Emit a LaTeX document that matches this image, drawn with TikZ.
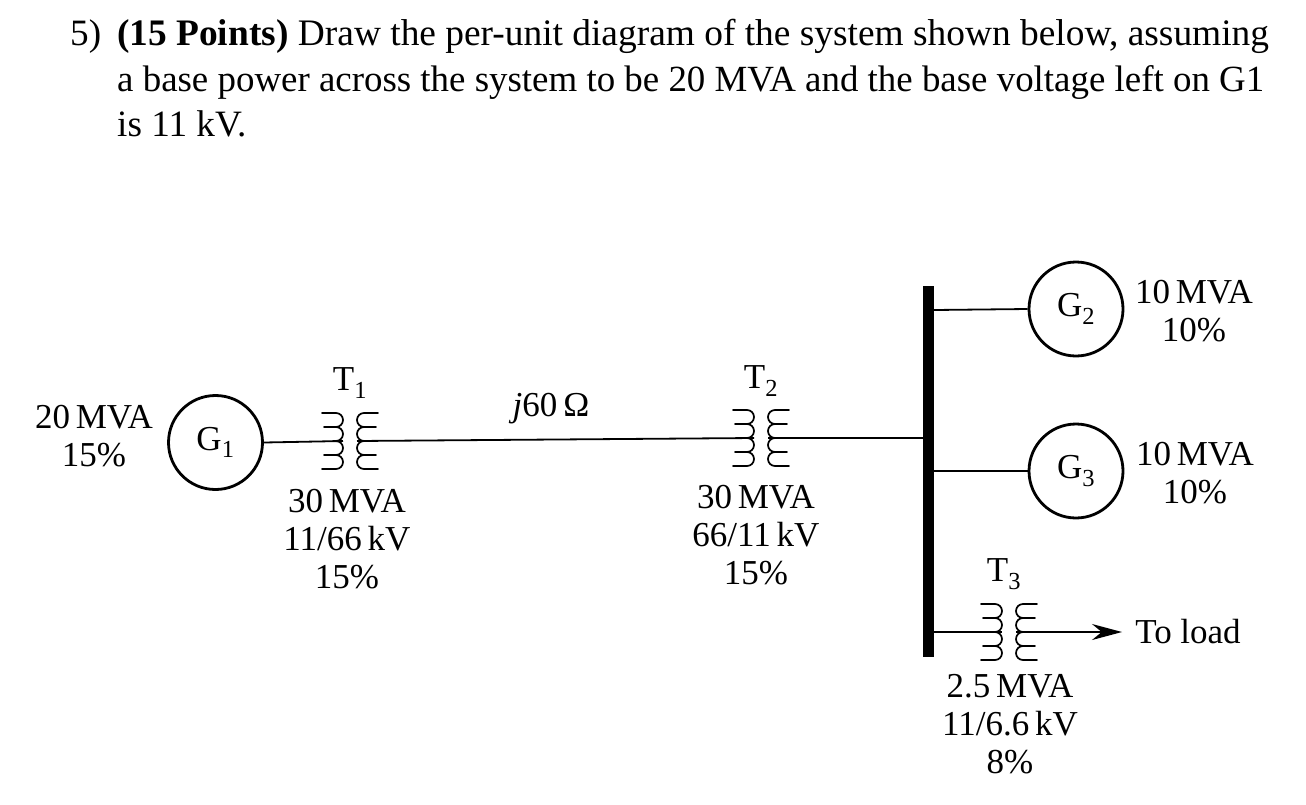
\documentclass[tikz,border=0pt]{standalone}
\usepackage{fontspec}
\setmainfont{Liberation Serif}
\usetikzlibrary{arrows.meta}
\newcommand{\hdr}{\fontsize{37.2}{39}\selectfont}
\newcommand{\hdrb}{\fontsize{36.9}{39}\selectfont}
\newcommand{\hdra}{\fontsize{37.4}{39}\selectfont}
\newcommand{\lbl}{\fontsize{35}{38}\selectfont}
\tikzset{
  x=1pt,y=-1pt,
  wire/.style={line width=1.8pt,black},
  gen/.style={circle,draw=black,line width=2.8pt,minimum size=94pt,inner sep=0pt,font=\lbl},
  bus/.style={fill=black,draw=none,minimum width=11pt,minimum height=371pt,inner sep=0pt},
  txt/.style={font=\lbl,align=center,inner sep=0pt},
  head/.style={anchor=base west,inner sep=0pt},
  xfmr/.pic={
    \draw[line width=1.7pt,line cap=round]
      (-28,-28) -- (-14,-28) arc[start angle=90,end angle=-90,radius=7pt] -- (-26,-14)
      (-26,-14) -- (-14,-14) arc[start angle=90,end angle=-90,radius=7pt] -- (-17,0)
      (-17,0) -- (-14,0) arc[start angle=90,end angle=-90,radius=7pt] -- (-26,14)
      (-26,14) -- (-14,14) arc[start angle=90,end angle=-90,radius=7pt] -- (-28,28);
    \draw[line width=1.7pt,line cap=round]
      (28,-28) -- (14,-28) arc[start angle=90,end angle=270,radius=7pt] -- (26,-14)
      (26,-14) -- (14,-14) arc[start angle=90,end angle=270,radius=7pt] -- (17,0)
      (17,0) -- (14,0) arc[start angle=90,end angle=270,radius=7pt] -- (26,14)
      (26,14) -- (14,14) arc[start angle=90,end angle=270,radius=7pt] -- (28,28);
    \coordinate (-l) at (-7,0);
    \coordinate (-r) at (7,0);
  }
}
\begin{document}
\begin{tikzpicture}
\useasboundingbox (0,0) rectangle (1306,804);
\node[head,font=\hdr] (h0) at (70,45) {5)};
\node[head,font=\hdra] (h1) at (117,45) {\textbf{(15 Points)} Draw the per-unit diagram of the system shown below, assuming};
\node[head,font=\hdrb] (h2) at (117,91) {a base power across the system to be 20 MVA and the base voltage left on G1};
\node[head,font=\hdr] (h3) at (117,136) {is 11 kV.};

\node[bus] (bus) at (928.5,471.5) {};
\node[gen] (g1) at (215.5,442.5) {G\textsubscript{1}};
\node[gen] (g2) at (1076,309) {G\textsubscript{2}};
\node[gen] (g3) at (1076,471) {G\textsubscript{3}};
\pic (t1) at (350,441) {xfmr};
\pic (t2) at (761,438) {xfmr};
\pic (t3) at (1009,632) {xfmr};
\coordinate (busa) at (923,438);
\coordinate (busb) at (934,310);
\coordinate (busc) at (934,471);
\coordinate (busd) at (934,632);
\coordinate (load) at (1122,632);

\draw[wire] (g1.east) -- (t1-l);
\draw[wire] (t1-r) -- (t2-l);
\draw[wire] (t2-r) -- (busa);
\draw[wire] (busb) -- (g2.west);
\draw[wire] (busc) -- (g3.west);
\draw[wire] (busd) -- (t3-l);
\draw[wire,-{Stealth[length=30pt,width=16pt]}] (t3-r) -- (load);

\node[txt] (l1) at (94,436) {20\,MVA\\15\%};
\node[txt] (t1n) at (350,383) {T\textsubscript{1}};
\node[txt] (t1d) at (347,539) {30\,MVA\\11/66\,kV\\15\%};
\node[txt] (j) at (551,409) {\textit{j}60\,Ω};
\node[txt] (t2n) at (761,381) {T\textsubscript{2}};
\node[txt] (t2d) at (756,535) {30\,MVA\\66/11\,kV\\15\%};
\node[txt] (l2) at (1194,311) {10\,MVA\\10\%};
\node[txt] (l3) at (1195,473) {10\,MVA\\10\%};
\node[txt] (t3n) at (1004,574) {T\textsubscript{3}};
\node[txt] (load1) at (1188,632) {To load};
\node[txt] (t3d) at (1010,724) {2.5\,MVA\\11/6.6\,kV\\8\%};
\end{tikzpicture}
\end{document}
